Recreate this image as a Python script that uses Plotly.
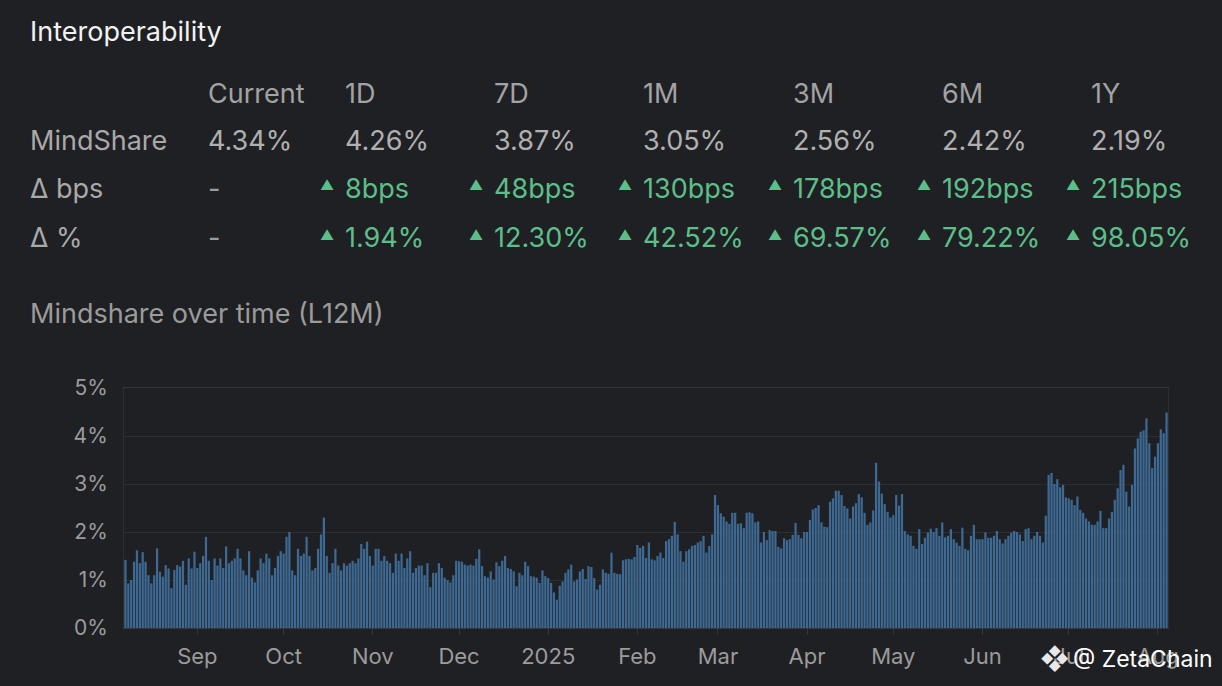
import pandas as pd
import plotly.graph_objects as go

# table at the top
columns = ["Current", "1D", "7D", "1M", "3M", "6M", "1Y"]
mindshare = ["4.34%", "4.26%", "3.87%", "3.05%", "2.56%", "2.42%", "2.19%"]
delta_bps = [None, 8, 48, 130, 178, 192, 215]
delta_pct = [None, 1.94, 12.30, 42.52, 69.57, 79.22, 98.05]

# daily mindshare (%), month by month
aug24 = [1.42, 0.93, 1.0, 1.38, 1.62, 1.35, 1.58, 1.38, 1.1, 0.93, 1.1, 1.66, 1.17,
         1.07, 1.31, 1.24, 0.83, 1.21, 1.31, 1.28, 1.4, 0.9, 1.45, 1.24, 1.59]
sep24 = [1.25, 1.35, 1.5, 1.9, 1.4, 1.0, 1.45, 1.3, 1.45, 1.25, 1.7, 1.35, 1.4, 1.45, 1.65,
         1.45, 1.2, 1.1, 1.6, 1.05, 0.95, 1.2, 1.45, 1.35, 1.55, 1.45, 1.1, 1.25, 1.5, 1.6]
oct24 = [1.55, 1.9, 2.0, 1.2, 1.1, 1.65, 1.5, 1.55, 1.9, 1.5, 1.2, 1.25, 1.65, 1.95, 2.3, 1.5,
         1.15, 1.35, 1.65, 1.3, 1.2, 1.35, 1.3, 1.35, 1.4, 1.35, 1.45, 1.75, 1.65, 1.8, 1.5]
nov24 = [1.3, 1.65, 1.65, 1.4, 1.5, 1.4, 1.35, 1.15, 1.55, 1.4, 1.55, 1.25, 1.45, 1.6, 1.15,
         1.25, 1.3, 1.3, 1.1, 1.35, 0.85, 1.15, 1.15, 1.35, 1.25, 1.05, 1.0, 0.95, 1.1, 1.4]
dec24 = [1.39, 1.38, 1.32, 1.3, 1.32, 1.3, 1.44, 1.64, 1.29, 1.08, 1.05, 1.18, 1.01, 1.37, 1.29,
         1.4, 1.5, 1.25, 1.23, 1.18, 0.87, 1.15, 1.1, 1.38, 1.29, 1.08, 1.07, 1.05, 0.94, 1.2, 1.08]
jan25 = [1.04, 0.94, 0.74, 0.59, 0.88, 0.97, 1.15, 1.22, 1.32, 0.97, 1.01, 1.18, 1.23, 1.02, 1.29,
         1.27, 1.04, 0.8, 0.9, 1.22, 1.15, 1.13, 1.57, 1.15, 1.13, 1.12, 1.41, 1.43, 1.44, 1.43, 1.48]
feb25 = [1.73, 1.67, 1.71, 1.46, 1.78, 1.43, 1.41, 1.5, 1.57, 1.46, 1.81, 1.85, 1.92, 2.21,
         1.95, 1.6, 1.38, 1.6, 1.64, 1.71, 1.73, 1.78, 1.81, 1.92, 1.57, 1.71, 1.95, 2.77]
mar25 = [2.56, 2.39, 2.32, 2.22, 2.17, 2.4, 2.4, 2.17, 2.18, 2.08, 2.4, 2.41, 2.39, 2.2, 2.22, 1.78,
         2.0, 1.83, 2.04, 2.02, 2.02, 1.69, 1.66, 1.87, 1.83, 1.85, 1.94, 2.19, 1.94, 1.87, 2.0]
apr25 = [2.0, 2.25, 2.47, 2.5, 2.56, 2.2, 2.11, 2.1, 2.63, 2.7, 2.86, 2.86, 2.77, 2.54, 2.49,
         2.28, 2.53, 2.6, 2.79, 2.72, 2.4, 2.15, 2.2, 2.45, 3.44, 3.05, 2.8, 2.58, 2.42, 2.3]
may25 = [2.35, 2.77, 2.55, 2.79, 2.02, 1.95, 1.92, 1.71, 1.65, 2.06, 1.75, 1.88, 1.99, 2.07, 2.0,
         2.08, 1.92, 2.2, 1.89, 1.92, 2.06, 1.85, 1.78, 1.71, 2.09, 1.65, 1.62, 1.92, 2.15, 1.85, 1.85]
jun25 = [1.85, 1.99, 1.88, 1.88, 1.92, 2.02, 1.85, 1.76, 1.85, 1.92, 1.99, 2.02, 2.0, 1.95, 1.81,
         2.06, 2.08, 1.85, 1.92, 2.0, 1.92, 1.78, 2.34, 3.19, 3.23, 3.0, 3.1, 2.93, 2.98, 2.72]
jul25 = [2.7, 2.67, 2.56, 2.74, 2.46, 2.4, 2.28, 2.22, 2.15, 2.15, 2.22, 2.44, 2.08, 2.08, 2.28,
         2.42, 2.67, 2.91, 3.29, 3.4, 2.84, 2.53, 2.98, 3.74, 3.95, 4.09, 4.12, 4.37, 3.85, 3.33, 3.57]
aug25 = [3.85, 4.14, 4.06, 4.49]

values = (aug24 + sep24 + oct24 + nov24 + dec24 + jan25 + feb25 + mar25 + apr25
          + may25 + jun25 + jul25 + aug25)
dates = pd.date_range("2024-08-07", periods=len(values), freq="D")

month_ticks = pd.date_range("2024-09-01", "2025-08-01", freq="MS")
month_labels = ["Sep", "Oct", "Nov", "Dec", "2025", "Feb", "Mar", "Apr", "May", "Jun", "Jul", "Aug"]

y_ticks = [0, 1, 2, 3, 4, 5]
y_labels = ["0%", "1%", "2%", "3%", "4%", "5%"]

BG = "#1f2023"
FONT = "Inter"
GREEN = "#5cbf8a"

# plot area in pixels
L, R, T, B = 124, 1168, 388, 628


def px(x):
    return (x - L) / (R - L)


def py(y):
    return (B - y) / (B - T)


fig = go.Figure()
fig.add_trace(go.Bar(
    x=dates, y=values,
    marker=dict(color="#3d6993", line=dict(width=0)),
    hoverinfo="skip",
))

ann = []


def text(x, y, s, color, size=27, anchor="left"):
    ann.append(dict(x=px(x), y=py(y), xref="paper", yref="paper", text=s,
                    showarrow=False, xanchor=anchor, yanchor="middle",
                    font=dict(family=FONT, size=size, color=color)))


text(28, 31, "Interoperability", "#f2f2f2")
text(28, 313, "Mindshare over time (L12M)", "#9b9b9b")

col_x = [206, 343, 492, 641, 791, 940, 1089]
row_y = {"head": 93, "ms": 140, "bps": 188, "pct": 237}

text(28, row_y["ms"], "MindShare", "#a9a9a9")
text(28, row_y["bps"], "Δ bps", "#a9a9a9")
text(28, row_y["pct"], "Δ %", "#a9a9a9")

for i, c in enumerate(columns):
    x = col_x[i]
    text(x, row_y["head"], c, "#a3a3a3")
    text(x, row_y["ms"], mindshare[i], "#b0b0b0")
    for key, v, fmt in (("bps", delta_bps[i], "{}bps"), ("pct", delta_pct[i], "{:.2f}%")):
        if v is None:
            text(x, row_y[key], "-", "#9b9b9b")
        else:
            text(x - 7, row_y[key] - 3, "▲", GREEN, 14, anchor="right")
            text(x, row_y[key], fmt.format(v), GREEN)

# watermark (sits over the Jul/Aug labels, as in the screenshot)
text(1054, 659, "❖", "#e8e8e8", 28, anchor="center")
text(1071, 659, "@ ZetaChain", "#ffffff", 23)

fig.update_layout(
    width=1222, height=686,
    margin=dict(l=L, r=1222 - R, t=T, b=686 - B),
    paper_bgcolor=BG, plot_bgcolor=BG,
    bargap=0.22,
    showlegend=False,
    annotations=ann,
    font=dict(family=FONT),
)
fig.update_xaxes(
    type="date",
    range=[dates[0] - pd.Timedelta(hours=12), dates[-1] + pd.Timedelta(hours=12)],
    tickvals=month_ticks, ticktext=month_labels,
    tickfont=dict(size=22, color="#9b9b9b"),
    ticks="outside", ticklen=6, tickcolor="#34363a",
    ticklabelstandoff=3,
    showgrid=False, showline=True, linecolor="#34363a", mirror=True,
    zeroline=False,
)
fig.update_yaxes(
    range=[0, 5],
    tickvals=y_ticks, ticktext=y_labels,
    tickfont=dict(size=21, color="#9b9b9b"),
    ticklabelstandoff=11,
    showgrid=True, gridcolor="#2c2e33", gridwidth=1,
    showline=True, linecolor="#2c2e33", mirror=True,
    zeroline=False,
)

fig.write_html("out.html", config={"displayModeBar": False},
               post_script="document.body.style.margin='0';document.body.style.overflow='hidden';")
